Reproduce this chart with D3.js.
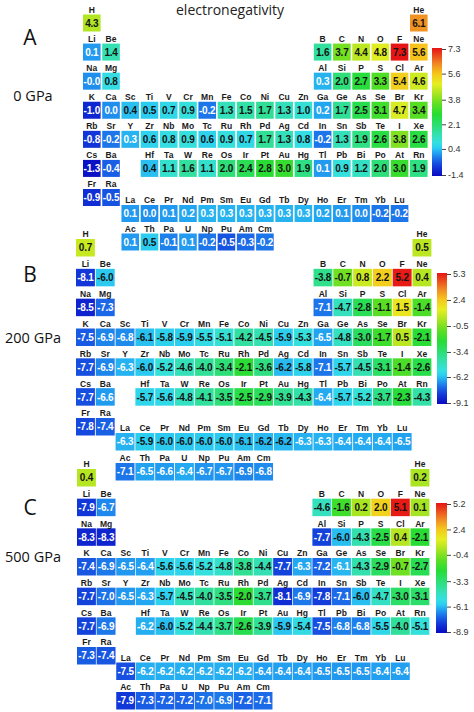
<!DOCTYPE html>
<html><head><meta charset="utf-8">
<script src="https://cdn.jsdelivr.net/npm/d3@7/dist/d3.min.js"></script>
<style>body{margin:0;background:#fff}</style></head>
<body><svg id="chart" width="474" height="712"></svg>
<script>
// ---- categories: periodic-table blocks (row, first column, symbols) ----
const blocks = [
  {row:1, col:1,  syms:["H"]},
  {row:1, col:18, syms:["He"]},
  {row:2, col:1,  syms:["Li","Be"]},
  {row:2, col:13, syms:["B","C","N","O","F","Ne"]},
  {row:3, col:1,  syms:["Na","Mg"]},
  {row:3, col:13, syms:["Al","Si","P","S","Cl","Ar"]},
  {row:4, col:1,  syms:["K","Ca","Sc","Ti","V","Cr","Mn","Fe","Co","Ni","Cu","Zn","Ga","Ge","As","Se","Br","Kr"]},
  {row:5, col:1,  syms:["Rb","Sr","Y","Zr","Nb","Mo","Tc","Ru","Rh","Pd","Ag","Cd","In","Sn","Sb","Te","I","Xe"]},
  {row:6, col:1,  syms:["Cs","Ba"]},
  {row:6, col:4,  syms:["Hf","Ta","W","Re","Os","Ir","Pt","Au","Hg","Tl","Pb","Bi","Po","At","Rn"]},
  {row:7, col:1,  syms:["Fr","Ra"]},
  {row:8, col:3,  syms:["La","Ce","Pr","Nd","Pm","Sm","Eu","Gd","Tb","Dy","Ho","Er","Tm","Yb","Lu"]},
  {row:9, col:3,  syms:["Ac","Th","Pa","U","Np","Pu","Am","Cm"]}
];

// ---- series values (same order as blocks flattened) ----
const values0GPa = [4.3,6.1, 0.1,1.4,1.6,3.7,4.4,4.8,7.3,5.6, -0.0,0.8,0.3,2.0,2.7,3.3,5.4,4.6,
  -1.0,0.0,0.4,0.5,0.7,0.9,-0.2,1.3,1.5,1.7,1.3,1.0,0.2,1.7,2.5,3.1,4.7,3.4,
  -0.8,-0.2,0.3,0.6,0.8,0.9,0.6,0.9,0.7,1.7,1.3,0.8,-0.2,1.3,1.9,2.6,3.8,2.6,
  -1.3,-0.4,0.4,1.1,1.6,1.1,2.0,2.4,2.8,3.0,1.9,0.1,0.9,1.2,2.0,3.0,1.9,
  -0.9,-0.5,
  0.1,0.0,0.1,0.2,0.3,0.3,0.3,0.3,0.3,0.3,0.2,0.1,0.0,-0.2,-0.2,
  0.1,0.5,-0.1,0.1,-0.2,-0.5,-0.3,-0.2];
const values200GPa = [0.7,0.5, -8.1,-6.0,-3.8,-0.7,0.8,2.2,5.2,0.4, -8.5,-7.3,-7.1,-4.7,-2.8,-1.1,1.5,-1.4,
  -7.5,-6.9,-6.8,-6.1,-5.8,-5.9,-5.5,-5.1,-4.2,-4.5,-5.9,-5.3,-6.5,-4.8,-3.0,-1.7,0.5,-2.1,
  -7.7,-6.9,-6.3,-6.0,-5.2,-4.6,-4.0,-3.4,-2.1,-3.6,-6.2,-5.8,-7.1,-5.7,-4.5,-3.1,-1.4,-2.6,
  -7.7,-6.6,-5.7,-5.6,-4.8,-4.1,-3.5,-2.5,-2.9,-3.9,-4.3,-6.4,-5.7,-5.2,-3.7,-2.3,-4.3,
  -7.8,-7.4,
  -6.3,-5.9,-6.0,-6.0,-6.0,-6.0,-6.1,-6.2,-6.2,-6.3,-6.3,-6.4,-6.4,-6.4,-6.5,
  -7.1,-6.5,-6.6,-6.4,-6.7,-6.7,-6.9,-6.8];
const values500GPa = [0.4,0.2, -7.9,-6.7,-4.6,-1.6,0.2,2.0,5.1,0.1, -8.3,-8.3,-7.7,-6.0,-4.3,-2.5,0.4,-2.1,
  -7.4,-6.9,-6.5,-6.4,-5.6,-5.6,-5.2,-4.8,-3.8,-4.4,-7.7,-6.3,-7.2,-6.1,-4.3,-2.9,-0.7,-2.7,
  -7.7,-7.0,-6.5,-6.3,-5.7,-4.5,-4.0,-3.5,-2.0,-3.7,-8.1,-6.9,-7.8,-7.1,-6.0,-4.7,-3.0,-3.1,
  -7.7,-6.9,-6.2,-6.0,-5.2,-4.4,-3.7,-2.6,-3.9,-5.9,-5.4,-7.5,-6.8,-6.8,-5.5,-4.0,-5.1,
  -7.3,-7.4,
  -7.5,-6.2,-6.2,-6.2,-6.2,-6.2,-6.2,-6.4,-6.4,-6.4,-6.5,-6.5,-6.5,-6.4,-6.4,
  -7.9,-7.3,-7.2,-7.2,-7.0,-6.9,-7.2,-7.1];

// ---- colorbar tick labels ----
const ticks0GPa   = [7.3,5.6,3.8,2.1,0.4,-1.4];
const ticks200GPa = [5.3,2.4,-0.5,-3.4,-6.2,-9.1];
const ticks500GPa = [5.2,2.4,-0.4,-3.3,-6.1,-8.9];

const panelLetters = ["A","B","C"];
const pressureLabels = ["0 GPa","200 GPa","500 GPa"];
const title = "electronegativity";

// ---- layout / style ----
const panels = [
  {vals:values0GPa, ticks:ticks0GPa, x1:83, x18:410, cw:17.6, ch:17, y1:14.5, y7:189, lanOff:16, actOff:44.5,
   cbX:432, cbW:10, cbTop:49, cbBot:175, letterY:45, presY:101},
  {vals:values200GPa, ticks:ticks200GPa, x1:76, x18:412.5, cw:18.9, ch:17.5, y1:239, y7:418, lanOff:15, actOff:45,
   cbX:437, cbW:10, cbTop:274, cbBot:403, letterY:282, presY:343},
  {vals:values500GPa, ticks:ticks500GPa, x1:77, x18:410.5, cw:18.9, ch:17.5, y1:469, y7:647, lanOff:15.5, actOff:45,
   cbX:436, cbW:11, cbTop:504, cbBot:632, letterY:515, presY:562}
];

const cmapStops = [0,0.07,0.12,0.18,0.22,0.26,0.32,0.40,0.48,0.56,0.64,0.72,0.80,0.88,1];
const cmapColors = ["#0a0ac0","#1236d8","#1a62e6","#22a2f0","#2ccdf0","#34e0e0","#34e0b2","#2cde72",
                    "#26dc34","#5cde22","#a6e422","#e6ee22","#f6c61c","#f08424","#e61414"];

const elements = [];
blocks.forEach(b => b.syms.forEach((s,i) => elements.push({sym:s, row:b.row, col:b.col+i})));

const svg = d3.select("#chart");
const defs = svg.append("defs");
const fmt = v => (Object.is(v,-0) ? "-0.0" : v.toFixed(1));

svg.append("text").attr("x",230).attr("y",15).attr("text-anchor","middle")
  .attr("font-family","'Open Sans', sans-serif").attr("font-size",14).attr("fill","#222").text(title);

panels.forEach((p, pi) => {
  const mn = d3.min(p.ticks), mx = d3.max(p.ticks);
  const tScale = d3.scaleLinear().domain([mn,mx]).range([0,1]).clamp(true);
  const cmap = d3.scaleLinear().domain(cmapStops).range(cmapColors).interpolate(d3.interpolateRgb);
  const color = v => cmap(tScale(v));

  const x = d3.scaleLinear().domain([1,18]).range([p.x1, p.x18]);
  const yMain = d3.scaleLinear().domain([1,7]).range([p.y1, p.y7]);
  const y = r => r <= 7 ? yMain(r) : yMain(7) + (r === 8 ? p.lanOff : p.actOff);

  const g = svg.append("g");
  const data = elements.map((e,i) => ({...e, v:p.vals[i]}));

  const cell = g.selectAll("g.cell").data(data).join("g")
    .attr("transform", d => `translate(${x(d.col)},${y(d.row)})`);
  cell.append("rect").attr("width",p.cw).attr("height",p.ch).attr("fill", d => color(d.v));
  cell.append("text").attr("x",p.cw/2).attr("y",p.ch/2).attr("dy","0.36em")
    .attr("text-anchor","middle").attr("font-family","'Liberation Sans', Arial, sans-serif")
    .attr("font-weight","bold").attr("font-size",10).attr("letter-spacing",-0.2)
    .attr("fill", d => tScale(d.v) < 0.2 ? "#ffffff" : "#141414")
    .text(d => fmt(d.v));
  cell.append("text").attr("x",p.cw/2).attr("y",-1.6)
    .attr("text-anchor","middle").attr("font-family","'Liberation Sans', Arial, sans-serif")
    .attr("font-weight","bold").attr("font-size",8.5).attr("fill","#1a1a1a")
    .text(d => d.sym);

  // colorbar
  const gid = "grad"+pi;
  const grad = defs.append("linearGradient").attr("id",gid).attr("x1",0).attr("y1",1).attr("x2",0).attr("y2",0);
  d3.range(0,1.0001,0.02).forEach(t => grad.append("stop").attr("offset",t).attr("stop-color",cmap(t)));
  const cbScale = d3.scaleLinear().domain([mn,mx]).range([p.cbBot,p.cbTop]);
  svg.append("rect").attr("x",p.cbX).attr("y",p.cbTop-1).attr("width",p.cbW).attr("height",p.cbBot-p.cbTop+2)
    .attr("fill",`url(#${gid})`);
  const ax = svg.append("g").attr("transform",`translate(${p.cbX+p.cbW},0)`)
    .call(d3.axisRight(cbScale).tickValues(p.ticks).tickSize(4).tickPadding(2).tickFormat(d => d.toFixed(1)));
  ax.select(".domain").remove();
  ax.selectAll("line").attr("stroke","#444");
  ax.selectAll("text").attr("font-family","'Liberation Sans', Arial, sans-serif").attr("font-size",9).attr("fill","#333");

  // panel letter and pressure
  svg.append("text").attr("x",30).attr("y",p.letterY).attr("text-anchor","middle")
    .attr("font-family","'Open Sans', sans-serif").attr("font-size",21).attr("fill","#111").text(panelLetters[pi]);
  svg.append("text").attr("x",33).attr("y",p.presY).attr("text-anchor","middle")
    .attr("font-family","'Open Sans', sans-serif").attr("font-size",14.5).attr("fill","#111").text(pressureLabels[pi]);
});
</script></body></html>
